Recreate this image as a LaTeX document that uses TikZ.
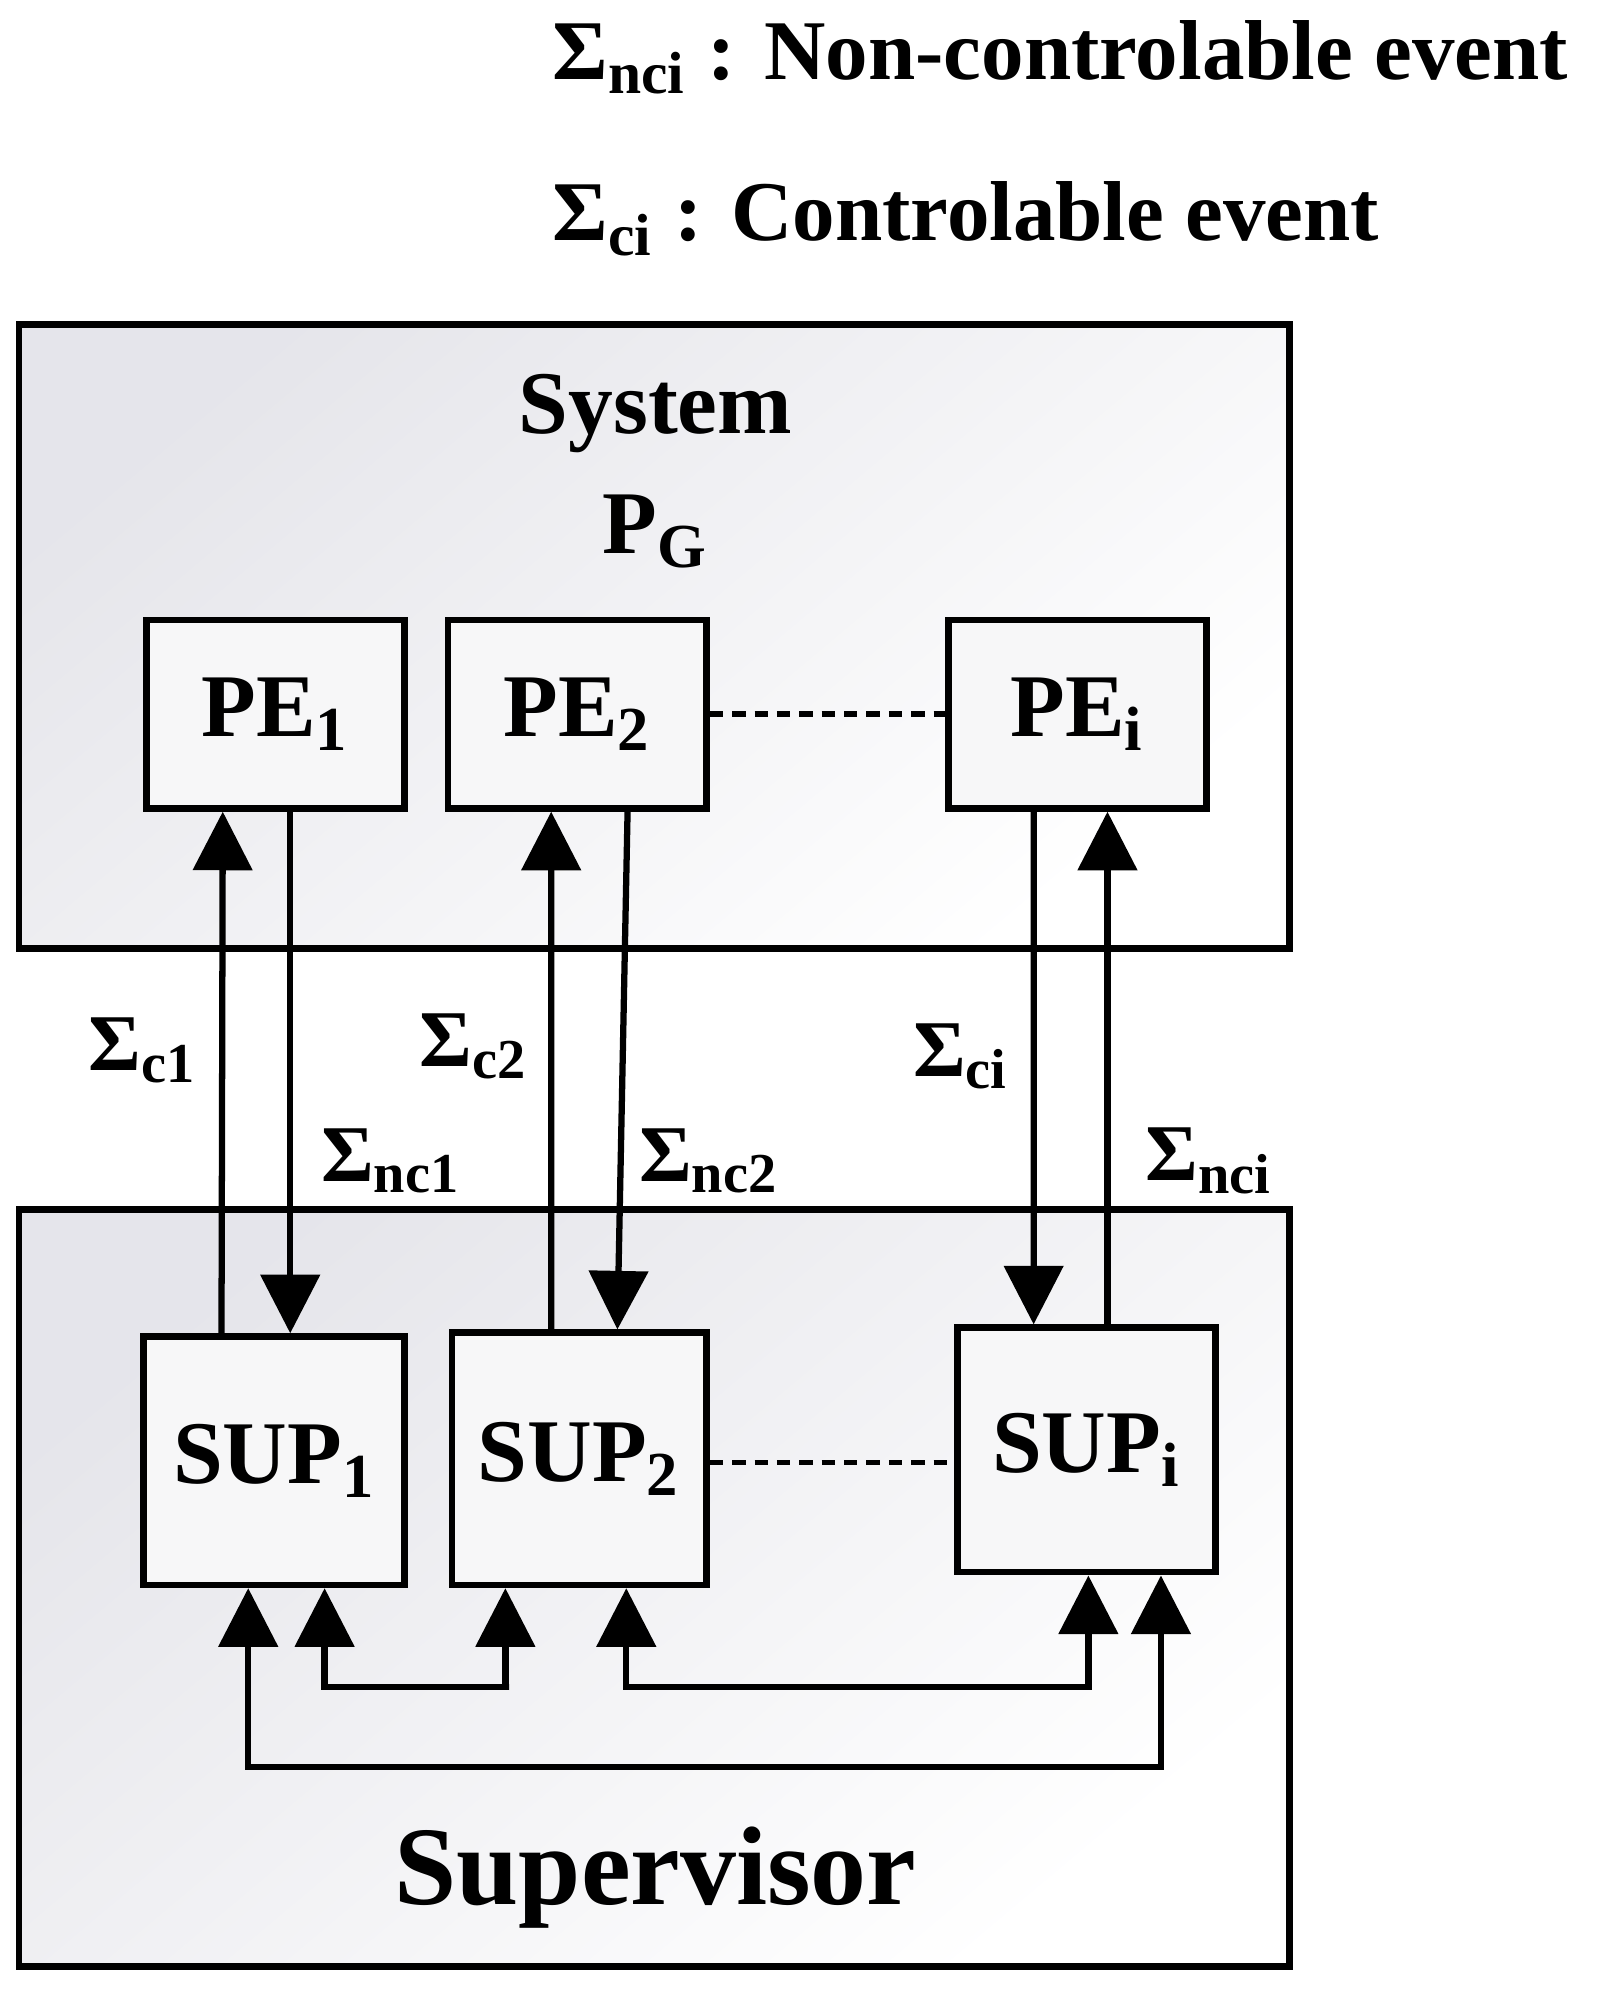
\documentclass[tikz,border=0pt]{standalone}
\usepackage{fontspec}
\setmainfont{Liberation Serif}
\usetikzlibrary{arrows.meta}
\tikzset{>={Triangle[width=4.6mm,length=4.6mm]}}
\newcommand{\sub}[1]{\textsubscript{#1}}
\begin{document}
\begin{tikzpicture}[x=0.1mm,y=-0.1mm,line width=1.4pt,font=\bfseries]
  \tikzset{
    frame/.style={draw,line width=1.5pt,top color=blue!20!black!10,bottom color=white,shading angle=40},
    box/.style={draw,line width=1.5pt,fill=blue!10!black!3,font=\fontsize{20}{24}\bfseries\selectfont},
    lbl/.style={font=\fontsize{18}{22}\bfseries\selectfont},
    dots/.style={line width=1.2pt,dash pattern=on 3pt off 2pt}
  }
  \useasboundingbox (0,0) rectangle (1255,1568);
  % legend
  \node[lbl,font=\fontsize{19}{22}\bfseries\selectfont,anchor=west] (l1) at (420,45) {Σ\sub{nci} : Non-controlable event};
  \node[lbl,font=\fontsize{19}{22}\bfseries\selectfont,anchor=west] (l2) at (420,172) {Σ\sub{ci} : Controlable event};
  % frames
  \node[frame,minimum width=99.8mm,minimum height=49mm] (sys) at (514,500) {};
  \node[frame,minimum width=99.8mm,minimum height=59.5mm] (sv) at (514,1247.5) {};
  \node[font=\fontsize{20}{24}\bfseries\selectfont,align=center] (syst) at (515,370) {System\\[1mm]P\sub{G}};
  \node[font=\fontsize{25}{30}\bfseries\selectfont] (svt) at (515,1475) {Supervisor};
  % PE boxes
  \node[box,minimum width=20.3mm,minimum height=14.8mm] (pe1) at (216.5,561) {PE\sub{1}};
  \node[box,minimum width=20.3mm,minimum height=14.8mm] (pe2) at (453.5,561) {PE\sub{2}};
  \node[box,minimum width=20.3mm,minimum height=14.8mm] (pei) at (846.5,561) {PE\sub{i}};
  \draw[dots] (pe2.east) -- (pei.west);
  % SUP boxes
  \node[box,minimum width=20.5mm,minimum height=19.5mm] (sup1) at (215.5,1147.5) {SUP\sub{1}};
  \node[box,minimum width=20mm,minimum height=19.8mm] (sup2) at (455,1146) {SUP\sub{2}};
  \node[box,minimum width=20.3mm,minimum height=19.2mm] (supi) at (853.5,1139) {SUP\sub{i}};
  \draw[dots] ([yshift=-0.3mm]sup2.east) -- ([yshift=-0.3mm]sup2.east -| supi.west);
  % vertical event arrows
  \draw[->] ([xshift=-4.15mm]sup1.north) -- ([xshift=-4.15mm]pe1.south);
  \draw[->] ([xshift=1.15mm]pe1.south) -- ([xshift=1.25mm]sup1.north);
  \draw[->] ([xshift=-2.2mm]sup2.north) -- ([xshift=-2.05mm]pe2.south);
  \draw[->] ([xshift=3.95mm]pe2.south) -- ([xshift=3mm]sup2.north);
  \draw[->] ([xshift=-3.45mm]pei.south) -- ([xshift=-4.15mm]supi.north);
  \draw[->] ([xshift=1.65mm]supi.north) -- ([xshift=2.35mm]pei.south);
  \node[lbl] (c1) at (112,825) {Σ\sub{c1}};
  \node[lbl] (nc1) at (307,912) {Σ\sub{nc1}};
  \node[lbl] (c2) at (372,822) {Σ\sub{c2}};
  \node[lbl] (nc2) at (557,912) {Σ\sub{nc2}};
  \node[lbl] (ci) at (755,830) {Σ\sub{ci}};
  \node[lbl] (nci) at (950,912) {Σ\sub{nci}};
  % supervisor interconnections
  \draw[<->] ([xshift=3.95mm]sup1.south) |- (400,1325) -| ([xshift=-5.8mm]sup2.south);
  \draw[<->] ([xshift=3.7mm]sup2.south) |- (700,1325) -| ([xshift=0.15mm]supi.south);
  \draw[<->] ([xshift=-2.05mm]sup1.south) |- (500,1388) -| ([xshift=5.85mm]supi.south);
\end{tikzpicture}
\end{document}
